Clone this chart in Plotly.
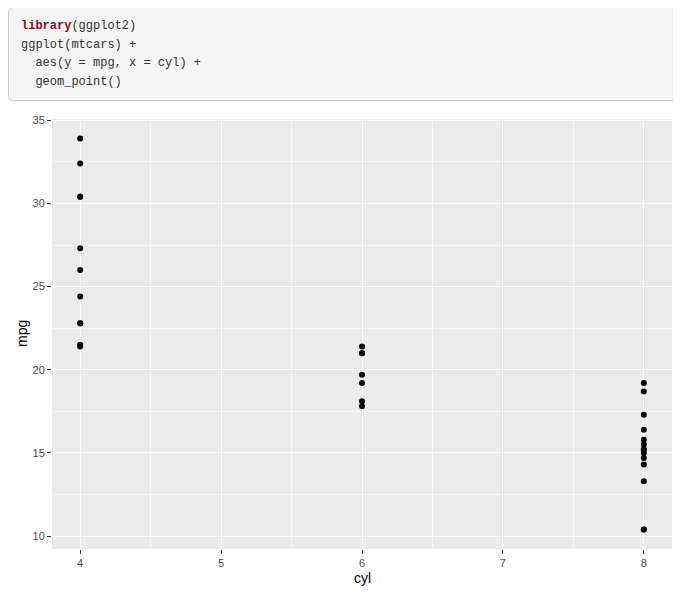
import plotly.graph_objects as go

# mtcars: mpg by cyl
cyl_values = [4, 4, 4, 4, 4, 4, 4, 4, 4, 4, 4,
              6, 6, 6, 6, 6, 6, 6,
              8, 8, 8, 8, 8, 8, 8, 8, 8, 8, 8, 8, 8, 8]
mpg_values = [22.8, 24.4, 22.8, 32.4, 30.4, 33.9, 21.5, 27.3, 26.0, 30.4, 21.4,
              21.0, 21.0, 21.4, 18.1, 19.2, 17.8, 19.7,
              18.7, 14.3, 16.4, 17.3, 15.2, 10.4, 10.4, 14.7, 15.5, 15.2, 13.3, 19.2, 15.8, 15.0]
x_ticks = [4, 5, 6, 7, 8]
y_ticks = [10, 15, 20, 25, 30, 35]
code_lines = [
    ("library", "(ggplot2)"),
    ("", "ggplot(mtcars) +"),
    ("", "  aes(y = mpg, x = cyl) +"),
    ("", "  geom_point()"),
]

# page is offset by the body margin (8px)
OX, OY = 8, 8
W, H = 681 - OX, 595 - OY
L, R, T, B = 52 - OX, 9, 119 - OY, 46
PW, PH = W - L - R, H - T - B


def px(x):
    return (x - OX - L) / PW


def py(y):
    return (H - B - (y - OY)) / PH


fig = go.Figure()
fig.add_trace(go.Scatter(
    x=cyl_values, y=mpg_values, mode="markers",
    marker=dict(color="black", size=6, line=dict(width=0)),
    hoverinfo="x+y", showlegend=False,
))

# code box (rounded rectangle)
x0, x1, y0, y1, r = px(8.5), px(700), py(7.5), py(100.5), 4
rx, ry = r / PW, r / PH
path = (f"M {x0+rx},{y0} L {x1-rx},{y0} Q {x1},{y0} {x1},{y0-ry} "
        f"L {x1},{y1+ry} Q {x1},{y1} {x1-rx},{y1} L {x0+rx},{y1} "
        f"Q {x0},{y1} {x0},{y1+ry} L {x0},{y0-ry} Q {x0},{y0} {x0+rx},{y0} Z")
fig.add_shape(type="path", path=path, xref="paper", yref="paper",
              fillcolor="#F5F5F5", line=dict(color="#CCCCCC", width=1), layer="above")

line_y = [26, 44.5, 63, 81.5]
for (kw, rest), yy in zip(code_lines, line_y):
    txt = rest.replace(" ", "&nbsp;")
    if kw:
        txt = "<b><span style='color:#8B0A2B'>" + kw + "</span></b>" + txt
    fig.add_annotation(text=txt, xref="paper", yref="paper",
                       x=px(18.5), y=py(yy), xanchor="left", yanchor="middle",
                       showarrow=False,
                       font=dict(family="Liberation Mono, DejaVu Sans Mono, monospace",
                                 size=12, color="#333333"))

# axis titles
fig.add_annotation(text="mpg", xref="paper", yref="paper", x=px(22), y=0.5,
                   textangle=-90, showarrow=False, xanchor="center", yanchor="middle",
                   font=dict(family="Liberation Sans, Arial", size=14, color="black"))
fig.add_annotation(text="cyl", xref="paper", yref="paper", x=0.5, y=py(578),
                   showarrow=False, xanchor="center", yanchor="middle",
                   font=dict(family="Liberation Sans, Arial", size=14, color="black"))

axis_common = dict(
    showline=False, zeroline=False, ticks="outside", ticklen=4, tickwidth=1,
    tickcolor="#333333", showgrid=True, gridcolor="white", gridwidth=1.3,
    tickfont=dict(family="Liberation Sans, Arial", size=11, color="#4D4D4D"),
)
fig.update_xaxes(range=[3.8, 8.2], tickvals=x_ticks, ticktext=[str(v) for v in x_ticks],
                 minor=dict(tickvals=[4.5, 5.5, 6.5, 7.5], showgrid=True,
                            gridcolor="#F7F7F7", gridwidth=0.7, ticks=""),
                 **axis_common)
fig.update_yaxes(range=[9.225, 35.075], tickvals=y_ticks, ticktext=[str(v) for v in y_ticks],
                 minor=dict(tickvals=[12.5, 17.5, 22.5, 27.5, 32.5], showgrid=True,
                            gridcolor="#F7F7F7", gridwidth=0.7, ticks=""),
                 **axis_common)

fig.update_layout(
    width=W, height=H, margin=dict(l=L, r=R, t=T, b=B, pad=0),
    plot_bgcolor="#EBEBEB", paper_bgcolor="white", showlegend=False,
)
fig.write_html("out.html")
